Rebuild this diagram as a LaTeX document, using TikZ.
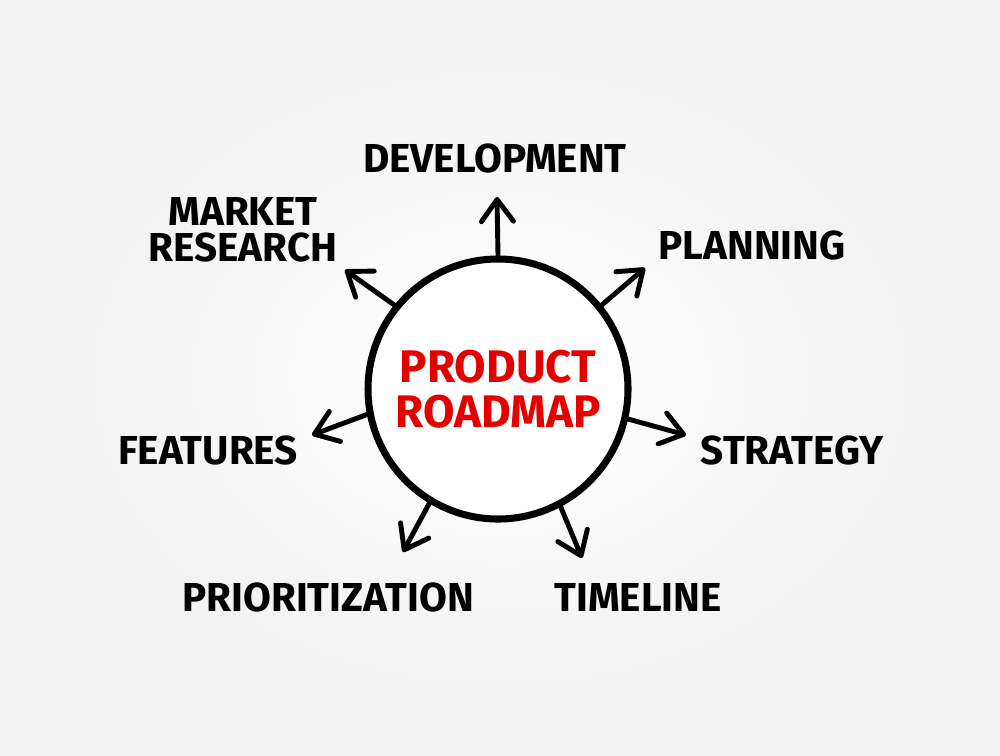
\documentclass[tikz,border=0pt]{standalone}
\usepackage{fontspec}
\setmainfont{Fira Sans}
\usetikzlibrary{arrows.meta}

\begin{document}
\begin{tikzpicture}[
    lbl/.style={font=\fontsize{11.5}{10.3}\selectfont\bfseries,align=center,text=black},
    arr/.style={line width=1.4pt,line cap=round,-{Straight Barb[length=2.2mm,width=3.2mm,line cap=round,line join=round]}}]
\useasboundingbox (0,0) rectangle (10,7.55);
\shade[inner color=white,outer color=gray!12] (0,0) rectangle (10,7.55);
\node [circle,draw,line width=2pt,minimum size=2.6cm,fill=white,align=center,
       text=red!90!black,font=\fontsize{13}{12.8}\selectfont\bfseries] (c) at (4.98,3.66)
    {PRODUCT\\ROADMAP};
%labels
\node [lbl] (dev) at (4.95,5.97) {DEVELOPMENT};
\node [lbl] (plan) at (7.52,5.10) {PLANNING};
\node [lbl] (strat) at (7.92,3.05) {STRATEGY};
\node [lbl] (time) at (6.38,1.58) {TIMELINE};
\node [lbl] (prio) at (3.28,1.58) {PRIORITIZATION};
\node [lbl] (feat) at (2.08,3.05) {FEATURES};
\node [lbl] (mark) at (2.43,5.25) {MARKET\\RESEARCH};
%arrow ends
\coordinate (devtip) at (4.97,5.58);
\coordinate (plantip) at (6.45,4.87);
\coordinate (strattip) at (6.86,3.20);
\coordinate (timetip) at (5.82,1.97);
\coordinate (priotip) at (4.03,2.03);
\coordinate (feattip) at (3.12,3.20);
\coordinate (marktip) at (3.45,4.85);
\draw[arr] (c.90) -- (devtip);
\draw[arr] (c.39.5) -- (plantip);
\draw[arr] (c.-13) -- (strattip);
\draw[arr] (c.-62) -- (timetip);
\draw[arr] (c.-121) -- (priotip);
\draw[arr] (c.191) -- (feattip);
\draw[arr] (c.141) -- (marktip);
\end{tikzpicture}
\end{document}
